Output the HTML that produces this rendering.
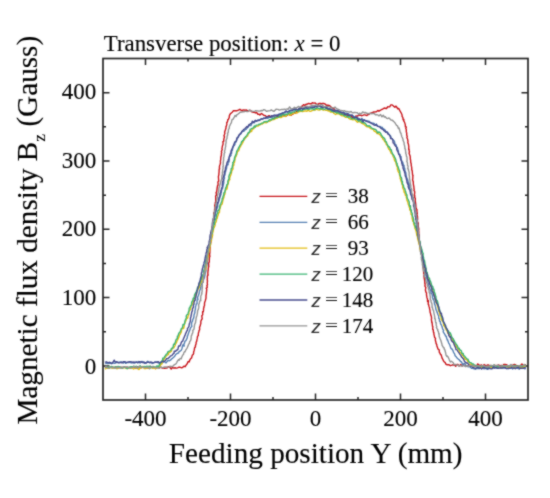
<!DOCTYPE html>
<html><head><meta charset="utf-8"><style>
html,body{margin:0;padding:0;background:#fff;}
body{width:550px;height:498px;overflow:hidden;position:relative;}
svg{position:absolute;left:0;top:0;}
text{font-family:"Liberation Serif","Times New Roman",serif;fill:#000;stroke:#000;stroke-width:0.12px;}
.tk{font-size:23px;}
.lg{font-size:21px;}
.lz{font-family:"Liberation Sans",Arial,sans-serif;font-style:italic;font-size:18.5px;fill:#2e2e2e;}
.le{font-size:21px;fill:#2e2e2e;}
.ax{font-size:29.2px;}
.tt{font-size:22.85px;}
</style></head><body>
<svg width="550" height="498" viewBox="0 0 550 498">
<defs><filter id="soft" filterUnits="userSpaceOnUse" x="0" y="0" width="550" height="498" color-interpolation-filters="sRGB"><feConvolveMatrix order="3" kernelMatrix="1 2 1 2 12 2 1 2 1" divisor="24" edgeMode="duplicate"/></filter></defs>
<g filter="url(#soft)">
<rect width="550" height="498" fill="#fff"/>
<path d="M145.50,400.0 v-6.5 M145.50,58.5 v6.5 M230.50,400.0 v-6.5 M230.50,58.5 v6.5 M315.50,400.0 v-6.5 M315.50,58.5 v6.5 M400.50,400.0 v-6.5 M400.50,58.5 v6.5 M485.50,400.0 v-6.5 M485.50,58.5 v6.5 M188.00,400.0 v-3 M188.00,58.5 v3 M273.00,400.0 v-3 M273.00,58.5 v3 M358.00,400.0 v-3 M358.00,58.5 v3 M443.00,400.0 v-3 M443.00,58.5 v3 M103.0,365.90 h6.5 M528.0,365.90 h-6.5 M103.0,297.60 h6.5 M528.0,297.60 h-6.5 M103.0,229.30 h6.5 M528.0,229.30 h-6.5 M103.0,161.00 h6.5 M528.0,161.00 h-6.5 M103.0,92.70 h6.5 M528.0,92.70 h-6.5 M103.0,331.75 h3 M528.0,331.75 h-3 M103.0,263.45 h3 M528.0,263.45 h-3 M103.0,195.15 h3 M528.0,195.15 h-3 M103.0,126.85 h3 M528.0,126.85 h-3" stroke="#262626" stroke-width="1.5" fill="none"/>
<g>
<path d="M104.9,367.6 106.1,366.9 107.4,366.9 108.8,368.2 110.0,367.2 111.5,367.7 112.7,367.0 114.0,367.9 115.0,367.3 116.2,366.9 117.5,367.5 118.9,367.7 120.5,367.5 121.2,367.3 123.1,367.6 124.1,367.3 125.5,367.1 127.2,367.1 128.3,368.0 129.5,367.4 130.9,367.5 131.9,367.4 133.8,366.5 135.0,367.4 135.9,368.4 137.6,366.7 138.7,367.6 139.9,367.7 141.3,367.7 142.9,366.9 143.9,367.1 145.2,366.7 146.4,367.2 148.0,368.0 148.8,367.0 150.5,366.3 151.6,367.4 153.3,367.9 154.2,367.3 155.5,368.4 156.8,367.4 158.3,367.5 159.4,367.0 160.8,367.4 162.3,368.0 163.4,368.0 164.6,368.3 166.0,368.1 167.0,368.0 168.2,366.7 169.8,367.3 171.2,369.1 172.3,367.5 173.8,368.1 175.0,367.8 176.5,368.1 177.5,367.8 179.0,367.2 180.3,367.3 181.8,367.8 182.9,367.2 184.1,366.1 185.0,366.7 185.6,366.0 186.3,364.8 187.2,363.7 188.1,361.4 189.2,362.0 189.8,360.1 190.6,358.7 191.6,357.9 191.9,356.6 192.3,355.1 193.2,354.5 193.6,353.4 193.6,352.0 194.0,350.9 194.4,349.5 194.5,348.0 195.5,346.8 195.3,346.1 196.1,343.8 196.1,343.0 196.1,342.5 196.8,340.9 196.9,339.8 197.3,338.2 197.5,336.4 198.3,335.5 198.3,334.5 198.4,333.0 198.9,331.8 199.0,330.7 199.6,329.8 199.6,327.8 199.5,327.4 200.3,325.5 200.4,324.8 200.8,323.6 200.8,322.6 200.9,321.0 201.6,319.7 202.2,318.8 201.8,315.8 202.6,314.9 202.7,314.7 202.6,311.8 203.3,311.7 203.5,310.4 203.6,308.3 204.0,307.3 203.9,306.8 204.5,305.5 204.5,303.6 204.7,302.2 205.2,301.0 205.4,300.3 206.0,298.1 206.0,297.5 206.0,295.5 206.1,295.4 206.3,293.8 206.4,293.1 206.7,289.9 206.7,288.8 206.2,288.3 207.3,287.3 206.9,285.5 207.5,284.8 207.3,283.3 207.3,282.5 207.5,280.9 207.2,279.8 207.4,278.8 207.3,276.8 207.7,274.9 208.1,275.1 207.8,273.4 208.1,270.3 208.2,270.4 208.3,268.5 208.3,267.7 208.8,266.7 208.7,266.1 208.7,263.7 208.5,263.5 209.3,261.9 209.3,260.1 209.4,258.6 209.4,257.5 209.9,256.5 209.6,254.6 209.6,254.5 209.9,252.3 209.9,250.4 210.0,250.2 210.0,248.3 210.2,247.2 210.0,245.7 210.2,245.0 210.4,243.5 211.0,241.7 210.6,240.7 210.9,238.8 211.1,239.1 211.0,236.6 211.0,235.6 211.1,233.5 211.7,232.4 211.8,232.4 211.8,230.6 212.4,228.9 212.0,227.0 212.4,227.2 212.8,224.6 212.7,223.6 213.1,222.5 213.3,221.5 213.4,220.0 213.7,218.7 213.9,218.5 214.1,216.2 213.7,215.1 213.8,212.8 214.6,212.7 214.5,210.0 214.6,209.3 214.9,209.6 214.9,206.7 214.7,205.8 215.1,203.9 215.2,202.6 215.6,202.5 215.7,200.4 215.7,199.3 215.7,197.9 215.6,196.0 216.3,195.4 216.4,194.7 216.1,192.5 216.7,191.8 216.8,190.9 217.1,188.4 217.1,188.2 217.6,185.4 217.9,185.5 218.1,183.7 217.9,182.0 218.7,181.2 218.6,179.7 218.5,177.8 218.5,178.0 218.4,176.7 218.9,174.3 218.9,173.3 219.1,172.0 219.1,170.8 219.2,169.0 219.6,168.9 219.4,167.1 219.7,165.3 220.2,164.2 220.5,162.8 220.4,161.8 220.4,161.0 220.7,159.7 220.8,157.5 221.0,156.8 221.4,155.0 221.4,153.3 221.7,152.3 221.4,151.6 222.2,149.5 221.9,148.6 222.1,148.0 222.4,146.1 222.9,144.8 223.1,143.4 222.9,141.6 223.8,141.2 223.7,140.1 223.9,138.8 224.5,136.9 223.9,135.7 224.2,135.4 224.9,133.1 224.6,132.2 225.5,129.6 225.6,129.3 226.0,128.0 226.0,126.5 226.1,126.8 226.8,124.6 226.8,122.5 227.2,122.3 227.7,121.0 227.8,119.7 228.5,119.3 229.3,117.3 229.3,116.1 229.9,114.5 230.7,113.3 231.6,112.8 232.5,111.9 233.4,110.8 234.8,110.7 236.2,110.8 237.1,110.7 238.4,110.2 239.9,109.3 241.3,110.5 242.6,110.2 243.8,109.9 245.1,110.2 246.5,110.0 247.8,110.9 249.0,110.8 250.5,110.4 251.7,111.8 252.9,112.2 254.0,112.2 255.5,113.0 256.6,112.4 257.9,114.3 259.2,114.3 259.9,115.1 261.4,113.5 262.8,114.4 263.7,115.2 265.5,115.6 266.6,117.0 268.2,116.2 269.1,115.6 270.3,116.6 271.8,116.5 273.2,116.1 274.3,117.1 275.7,117.3 277.0,116.6 278.3,116.3 279.1,117.1 280.8,116.9 281.7,116.3 283.2,115.8 284.1,115.9 286.1,116.0 287.0,115.4 288.6,113.6 289.6,115.0 291.1,115.3 292.4,114.0 293.4,113.8 294.3,112.7 295.8,113.2 296.7,111.4 297.8,111.4 298.7,110.6 299.4,108.8 300.5,108.3 301.7,106.2 302.3,106.4 303.5,104.7 305.0,105.3 306.1,104.3 307.5,104.0 308.7,103.4 309.6,103.7 310.9,103.8 312.4,102.8 313.7,103.1 315.2,102.9 316.2,103.9 318.1,104.4 318.9,103.5 320.5,103.4 321.2,103.8 322.8,103.5 323.6,103.5 325.4,104.2 326.4,105.2 327.8,105.3 329.0,105.5 330.0,106.0 331.4,107.2 332.1,107.7 333.3,109.0 334.1,108.8 335.4,111.5 336.8,110.7 337.9,112.5 338.9,111.8 340.4,112.8 341.4,112.8 342.9,114.5 343.8,114.4 344.5,114.8 346.1,115.1 347.5,115.1 348.2,115.9 349.7,115.9 351.0,116.1 351.9,117.2 353.8,117.2 355.4,116.6 355.9,116.0 357.3,116.1 358.9,115.1 360.3,115.2 361.5,115.7 362.7,115.4 363.9,114.9 364.9,114.9 366.9,115.6 368.0,114.5 368.8,114.6 370.2,113.3 371.4,113.0 372.6,112.5 373.7,112.0 375.7,111.8 376.4,111.7 377.8,110.4 378.9,111.2 380.2,110.3 381.7,109.5 382.6,109.2 384.2,108.0 384.9,108.3 386.5,108.5 387.8,106.8 388.8,106.9 389.7,106.8 390.8,104.9 392.2,104.9 393.5,106.1 394.9,107.2 395.9,106.1 396.8,107.2 397.7,108.8 398.7,108.4 399.8,110.5 400.4,111.7 401.1,112.8 401.8,114.2 402.1,115.4 402.1,116.3 402.9,117.7 403.1,119.7 403.8,119.4 403.8,121.1 404.5,122.1 404.9,123.4 405.3,124.7 405.4,126.9 406.3,127.0 405.8,128.4 406.3,129.5 406.3,131.4 406.4,132.2 406.7,132.9 406.7,135.1 407.2,136.5 406.9,137.6 407.7,139.5 407.7,140.0 408.0,141.4 407.8,142.6 408.5,144.4 408.6,145.3 408.8,146.6 408.7,149.5 409.1,149.2 409.1,150.9 409.5,151.8 409.1,153.2 409.6,154.7 410.1,156.1 410.2,156.6 410.4,159.6 410.6,159.9 410.7,162.0 410.7,162.3 411.2,164.0 411.2,165.1 411.4,166.2 411.6,166.8 411.8,169.2 411.7,169.9 412.2,170.7 412.3,172.0 412.6,175.2 413.0,175.1 412.8,176.6 412.8,178.6 412.6,179.7 413.0,181.2 413.2,181.3 413.3,183.4 413.4,184.5 413.4,184.4 413.9,187.2 413.9,188.2 414.2,189.2 414.0,190.6 414.6,191.3 414.7,193.0 414.3,195.3 414.7,195.2 414.8,197.7 415.3,198.2 415.3,200.2 415.2,201.2 415.5,202.0 415.6,203.7 415.8,204.6 415.9,206.8 416.2,208.0 416.6,209.1 417.0,209.6 416.9,211.2 417.3,213.6 416.6,213.4 417.3,215.7 417.5,216.5 417.6,218.2 417.6,219.7 417.3,220.7 417.7,222.2 418.0,222.5 418.3,223.8 418.1,224.7 418.4,227.1 418.7,228.1 418.8,229.5 418.6,231.1 418.9,231.9 418.7,233.3 418.9,234.2 419.2,235.7 419.2,236.8 419.3,238.8 419.3,240.9 419.7,242.1 420.0,242.0 419.8,243.9 420.1,245.0 420.2,245.3 420.4,246.3 420.8,248.4 420.7,250.0 421.1,250.6 420.9,252.1 421.0,253.5 422.0,254.7 422.0,255.8 422.1,257.7 422.2,259.4 422.8,260.5 422.6,261.2 422.9,262.9 423.1,264.3 423.4,264.5 423.1,267.3 423.3,267.7 423.4,268.7 423.6,272.1 424.0,271.4 423.6,273.1 424.2,274.2 423.9,276.4 424.4,277.0 424.0,277.7 424.3,278.6 424.7,280.8 424.8,283.4 425.0,283.1 425.1,285.6 424.9,285.7 425.2,286.7 425.8,287.5 425.4,290.0 425.8,291.5 426.1,292.6 426.5,292.8 426.5,294.9 426.8,296.6 426.9,297.4 427.5,299.3 427.5,301.5 428.4,300.8 428.2,304.3 428.6,304.3 428.7,305.1 429.0,306.4 429.5,307.7 429.5,308.6 429.9,310.0 430.1,312.3 430.5,313.3 430.7,314.3 430.9,315.4 431.3,316.3 431.6,318.2 431.4,319.2 431.6,320.8 431.8,322.6 432.0,322.0 432.2,323.5 432.5,326.4 432.8,326.4 432.7,329.4 433.2,329.7 433.5,332.3 433.8,332.4 433.9,333.9 433.9,334.2 434.3,335.6 434.6,337.4 435.5,338.2 435.3,339.8 435.7,341.7 435.9,341.9 436.0,343.1 436.8,344.9 436.9,345.9 437.5,347.6 437.8,348.4 438.0,349.2 439.2,349.8 439.3,352.3 439.8,352.9 440.5,354.5 441.1,354.7 441.6,356.4 442.1,358.2 443.0,359.7 443.4,360.8 444.4,362.1 445.2,362.4 445.7,364.0 446.3,364.5 447.7,364.8 448.7,364.7 450.4,365.7 451.9,365.2 452.9,364.8 454.4,365.1 455.7,366.3 456.9,364.5 458.0,364.5 459.2,366.0 460.8,364.5 462.2,366.0 463.3,364.9 464.6,365.5 466.1,366.0 467.5,366.0 468.9,365.7 469.5,365.2 471.2,365.1 472.7,365.1 473.6,366.1 475.2,365.4 476.6,365.9 477.8,363.9 478.8,365.0 480.1,365.4 481.8,365.0 482.6,366.4 484.1,364.6 485.5,365.5 486.6,365.7 488.0,364.8 489.4,365.7 490.5,365.5 492.0,366.9 493.1,366.1 494.6,365.2 496.0,365.8 497.5,365.5 498.3,365.0 499.9,365.6 501.4,365.5 502.6,366.1 503.7,364.5 504.7,364.5 506.6,364.8 507.9,365.6 509.3,365.9 510.2,365.2 511.5,365.4 512.7,365.3 514.4,364.4 515.4,364.8 516.7,365.8 518.0,365.7 518.9,365.9 520.4,365.6 521.9,363.9 523.0,365.4 524.8,365.5 525.8,364.5" fill="none" stroke="#c8161c" stroke-width="1.4" stroke-linejoin="round"/><path d="M105.4,364.0 106.4,362.9 107.3,363.5 109.6,363.4 110.6,363.3 111.4,363.7 112.6,362.8 114.3,363.4 115.6,363.1 116.6,362.2 118.1,362.5 119.1,362.2 120.6,361.9 121.7,362.0 123.3,363.1 125.0,362.0 125.7,363.3 127.1,362.6 128.9,362.6 129.5,362.1 131.2,363.0 132.1,362.2 133.8,363.1 134.9,363.1 136.4,361.7 137.5,362.9 138.8,361.5 140.1,363.1 141.8,361.5 143.4,362.0 144.3,363.3 145.6,362.7 146.4,363.0 147.8,361.2 149.9,363.0 151.0,362.1 152.2,363.5 153.5,362.7 154.2,362.6 155.3,361.8 157.1,362.3 158.4,362.8 160.1,363.6 161.0,363.5 162.1,362.6 163.8,362.0 164.8,361.7 166.1,362.9 167.1,361.6 168.2,360.2 169.2,360.9 171.1,359.6 171.4,359.0 172.5,358.3 173.7,357.2 174.9,356.0 175.7,354.5 176.6,353.9 177.7,353.2 178.6,353.1 179.1,351.4 180.0,351.2 181.3,350.2 181.6,349.4 182.0,348.4 182.8,344.9 184.2,346.1 183.9,344.2 184.6,342.9 184.9,341.3 185.9,340.6 186.5,339.4 187.3,337.7 187.3,335.9 187.5,336.4 188.0,334.8 188.7,332.7 189.0,331.8 189.4,331.2 190.1,329.3 190.2,328.5 190.8,327.7 191.8,326.4 191.5,324.6 191.7,322.9 192.0,321.9 192.5,321.3 192.8,319.5 192.9,319.3 193.6,318.1 193.9,316.6 194.0,314.9 194.9,312.6 194.8,312.9 194.9,311.2 195.4,309.1 195.5,307.7 195.5,306.6 195.9,305.7 196.4,303.6 197.0,303.8 197.0,301.7 197.1,300.9 197.5,298.4 197.9,299.7 197.6,297.4 198.4,295.5 199.0,293.6 199.1,293.9 199.4,291.5 199.8,290.3 200.5,288.8 200.7,287.3 201.1,286.8 200.7,285.6 201.5,284.1 202.5,282.5 202.4,282.7 203.1,281.5 203.6,279.0 203.9,278.9 204.6,277.0 204.7,275.7 204.9,275.6 205.3,272.6 205.5,272.4 206.0,270.6 205.9,269.4 205.9,267.4 206.7,266.6 206.8,266.2 207.0,264.3 207.5,263.3 207.2,262.1 207.5,259.9 207.7,259.0 207.4,257.7 208.0,256.3 207.9,255.1 208.4,254.0 208.4,253.0 208.5,251.3 209.3,249.7 209.1,249.4 209.3,247.4 209.6,246.8 209.2,244.5 209.7,243.1 209.9,241.9 210.4,240.6 210.6,240.1 210.6,238.6 211.3,237.4 211.0,235.9 211.1,234.8 211.7,232.9 211.7,232.7 211.8,230.9 211.9,229.1 212.3,229.5 212.5,226.7 212.7,225.6 213.3,224.5 213.8,223.3 214.0,222.1 214.1,219.8 214.2,219.3 214.5,216.9 215.0,216.6 215.0,215.4 215.4,214.5 215.5,212.5 216.1,211.9 216.3,210.2 216.5,209.2 217.3,207.4 217.7,207.2 217.7,205.9 217.8,203.3 218.2,202.8 218.7,201.5 219.2,199.3 219.6,198.5 219.7,197.8 220.0,196.0 220.3,195.5 221.0,194.5 221.0,192.5 221.4,192.0 221.4,191.1 222.1,188.8 222.5,188.5 222.8,187.2 223.0,186.1 223.5,184.0 223.8,182.9 223.7,181.0 223.9,180.7 223.9,179.4 224.5,177.9 224.2,176.4 225.0,174.7 225.1,172.6 225.5,172.2 225.8,170.3 226.1,169.9 226.5,168.3 226.5,168.8 226.8,165.9 227.3,164.5 228.1,164.8 228.0,161.7 228.9,162.0 229.2,160.8 229.2,158.8 229.5,156.9 230.4,156.0 231.1,155.2 230.8,154.4 231.7,153.0 231.5,151.7 232.5,150.0 232.4,149.6 233.1,147.2 233.5,146.2 234.2,145.5 234.9,144.6 234.9,143.3 236.0,142.1 236.6,140.4 236.8,140.1 237.4,137.3 238.6,136.9 239.0,135.5 239.5,134.6 240.5,134.4 240.9,133.6 242.0,131.6 243.4,131.3 243.8,131.4 245.0,129.7 246.1,129.4 246.9,128.3 247.8,127.5 248.8,125.8 250.3,125.3 251.0,125.6 252.0,123.1 253.2,122.2 254.4,122.8 255.2,121.2 256.6,121.1 257.5,120.9 258.5,119.9 260.1,119.6 261.5,118.7 262.8,118.9 263.8,117.9 264.9,118.5 266.2,118.0 267.9,118.2 269.3,117.1 270.0,117.5 271.5,117.3 272.7,117.0 274.2,116.4 275.4,115.9 276.6,115.5 278.0,114.7 279.4,114.5 280.4,114.1 281.4,114.9 282.6,112.6 283.8,112.8 285.6,112.6 286.6,111.6 287.7,112.1 289.3,111.0 290.3,111.1 291.2,110.6 292.6,109.1 294.0,110.3 295.1,109.0 296.8,109.6 298.0,110.0 298.9,109.4 300.2,108.7 301.5,108.5 303.1,108.4 304.1,108.0 305.5,107.5 306.6,107.7 307.9,107.6 309.2,108.6 310.9,107.6 311.9,108.4 313.2,107.0 314.5,107.1 316.1,106.8 317.5,106.2 318.5,106.1 320.1,106.5 320.9,107.3 322.5,106.3 323.5,106.3 324.8,107.3 326.0,107.3 327.2,107.6 328.7,109.2 329.4,108.7 330.9,109.4 332.1,109.5 333.3,110.4 334.8,110.3 336.1,110.6 336.9,111.4 338.6,111.4 340.0,112.4 340.8,111.7 342.6,113.2 343.4,112.1 344.6,112.9 345.7,113.6 346.9,113.3 348.7,114.0 349.7,115.2 351.1,115.1 352.1,115.3 353.7,116.6 354.3,116.7 355.9,117.5 357.4,118.4 358.0,118.1 359.1,118.7 360.6,120.5 361.9,118.3 362.9,119.9 364.0,119.8 365.5,120.9 366.7,120.6 368.2,121.2 369.1,121.2 370.3,122.8 371.3,122.9 373.0,123.2 374.1,123.4 375.5,125.1 376.4,124.1 377.3,126.2 379.1,126.4 380.1,126.5 380.9,127.5 382.2,127.3 383.4,129.6 383.9,129.0 385.3,130.2 385.6,131.8 387.1,132.0 388.4,133.3 388.7,134.3 389.4,134.8 390.6,135.9 391.2,138.2 392.2,138.8 392.8,139.7 393.7,140.5 394.4,141.2 394.6,142.1 395.1,144.3 396.1,144.8 396.3,146.1 396.7,146.9 397.4,147.8 397.9,149.9 398.3,150.5 398.6,153.3 399.1,154.4 400.0,154.5 400.1,156.5 401.1,156.7 401.1,159.0 401.7,160.7 401.9,161.1 402.2,163.2 402.7,162.1 403.2,164.5 404.1,165.6 404.0,167.4 404.7,168.3 404.9,169.8 404.9,170.9 405.3,171.6 405.8,172.6 406.1,175.1 406.2,175.5 406.5,177.4 407.1,178.5 407.5,179.3 407.7,180.0 408.2,182.2 408.3,184.0 408.9,183.0 409.2,185.0 409.8,188.4 409.8,188.4 410.3,189.8 410.9,191.5 410.9,192.9 411.3,193.4 412.1,194.9 412.0,195.4 412.5,197.0 413.2,197.6 413.3,199.9 413.6,201.1 414.1,202.4 414.3,203.7 414.7,203.6 414.9,205.8 414.8,206.6 414.7,208.2 415.2,210.0 415.2,211.8 415.8,212.2 415.8,213.1 416.0,214.6 416.4,216.0 416.3,217.3 416.6,218.8 417.4,220.3 417.1,220.4 417.0,221.7 417.6,223.4 417.6,224.8 417.8,227.2 417.7,227.6 417.9,229.5 417.9,229.7 418.0,230.9 418.6,234.3 418.4,234.7 418.8,234.9 418.9,236.7 418.9,239.1 418.8,239.6 419.5,240.3 419.6,242.4 419.8,243.5 420.1,243.4 420.4,247.1 420.5,247.7 420.2,248.3 420.5,249.3 421.1,250.5 421.0,251.2 421.2,253.6 421.3,254.4 422.1,255.4 421.7,256.9 422.4,259.8 422.5,259.5 422.5,261.8 422.7,263.3 423.4,263.8 423.5,265.4 424.0,265.7 424.2,267.4 424.1,268.9 424.5,269.6 424.5,270.8 425.5,273.7 425.6,274.5 425.7,275.1 426.3,275.8 426.4,277.7 426.9,278.3 427.4,280.0 427.9,281.4 428.0,282.7 428.4,283.5 428.8,285.5 429.4,287.0 429.3,287.3 429.9,288.9 430.3,289.8 431.0,291.4 430.9,293.3 431.8,293.5 432.1,294.6 432.5,296.2 432.5,297.3 432.9,298.9 433.5,300.0 433.7,299.2 434.2,301.4 434.6,304.4 435.0,304.8 435.3,306.2 435.6,307.1 435.9,309.4 436.4,310.5 436.8,311.2 437.2,312.7 437.8,313.8 437.8,314.5 438.7,316.0 438.7,318.2 439.4,318.9 439.5,321.2 440.0,321.4 440.3,321.6 440.5,323.8 441.3,324.7 441.4,325.2 442.0,326.5 442.7,329.1 443.6,330.2 443.4,330.4 443.2,331.8 444.5,333.8 445.1,334.8 445.5,336.1 446.3,336.3 446.4,337.3 447.3,340.0 447.7,339.8 448.1,341.6 448.6,342.8 449.2,343.8 449.9,345.3 450.2,346.3 450.8,348.0 451.4,348.8 452.0,349.0 452.9,350.4 453.5,352.3 453.7,352.7 454.6,353.9 455.1,355.8 456.1,356.7 456.8,357.7 457.6,358.5 458.7,359.5 459.4,359.8 460.5,361.5 461.4,361.7 462.6,364.4 463.4,364.0 464.5,363.2 465.5,365.0 466.9,366.0 467.6,366.6 469.0,366.9 470.2,366.9 471.4,368.3 473.2,368.4 474.1,368.8 475.5,369.2 476.9,368.3 478.0,368.5 479.3,368.5 480.3,367.3 481.7,367.3 483.1,368.4 484.1,368.8 485.9,368.4 487.4,369.4 488.1,368.9 489.7,368.6 491.1,367.9 492.1,367.8 493.4,368.2 494.5,367.7 496.2,368.2 497.5,367.2 498.5,367.9 500.0,367.9 501.5,368.2 502.6,368.2 504.1,367.9 505.5,368.4 506.6,368.2 507.9,368.7 509.3,368.4 510.6,368.2 512.0,368.1 512.6,368.9 514.3,367.5 515.6,367.6 517.4,368.4 517.9,368.4 519.4,369.1 520.6,366.8 522.1,367.9 523.3,366.9 524.8,368.9 525.6,368.7" fill="none" stroke="#5580b2" stroke-width="1.4" stroke-linejoin="round"/><path d="M105.0,369.3 106.5,367.9 107.9,368.3 108.9,368.4 110.2,367.1 112.0,367.9 112.8,368.3 113.8,367.4 115.4,367.8 116.8,368.7 118.0,368.4 119.5,367.6 120.7,367.6 122.2,368.4 123.3,367.4 124.6,367.8 126.0,368.1 127.0,368.7 128.6,367.9 130.0,368.0 131.0,368.3 132.2,367.9 133.6,369.0 135.3,368.0 136.6,368.1 137.7,368.6 138.9,369.5 140.2,367.5 141.8,367.9 142.7,366.4 144.3,368.5 145.6,368.6 147.1,368.0 148.2,367.6 149.2,368.6 150.7,367.3 152.0,367.9 153.0,368.3 154.4,367.1 155.5,368.9 156.7,367.8 158.4,367.7 159.1,366.4 160.3,366.1 160.8,363.9 161.8,364.0 162.3,362.0 163.0,361.2 163.7,359.4 164.3,358.9 164.8,358.0 165.8,356.6 166.7,355.1 167.4,355.1 168.4,354.5 168.9,352.1 170.1,352.2 171.3,351.3 171.5,350.4 172.3,348.1 173.8,348.0 174.1,347.1 175.0,345.8 175.5,343.9 175.5,344.1 176.6,342.4 176.9,341.0 177.2,340.6 178.1,338.9 178.5,338.0 179.1,336.6 179.3,335.3 180.6,333.6 180.6,333.2 181.4,331.9 181.4,330.6 182.1,328.7 183.0,327.8 183.6,328.5 184.2,326.0 184.4,324.1 184.9,323.0 185.4,321.8 186.1,320.4 186.3,319.0 187.2,318.5 187.8,317.8 187.9,316.4 188.1,316.1 189.0,313.5 188.9,312.5 189.2,310.7 190.2,309.9 190.4,309.2 190.7,307.6 191.3,305.8 192.0,304.5 192.8,303.5 193.2,302.0 193.4,300.7 193.4,300.2 194.4,298.2 194.9,297.3 195.2,296.7 195.8,294.3 196.5,294.4 196.6,292.4 196.8,291.0 197.8,290.3 197.9,289.0 199.0,288.0 199.1,287.7 199.8,285.8 200.1,283.7 200.5,283.1 201.2,282.3 201.8,281.1 202.2,279.2 202.1,278.2 202.8,276.9 203.4,275.4 203.6,274.8 204.2,273.2 204.6,272.2 204.6,271.1 205.5,269.4 205.7,269.3 206.0,266.8 206.4,266.0 206.1,264.6 206.5,263.4 206.6,262.8 206.8,260.3 207.4,260.0 207.7,257.7 208.0,257.3 208.4,255.1 208.4,254.3 208.2,252.8 209.1,251.7 209.0,251.2 209.7,250.0 209.6,248.1 210.2,246.5 210.1,246.1 210.9,243.7 210.3,242.3 210.9,241.7 211.5,240.5 211.5,239.4 211.7,238.0 212.0,238.2 212.6,235.0 212.5,233.9 212.6,232.5 213.0,232.1 213.4,229.9 213.5,228.4 214.1,227.7 214.7,226.2 215.0,225.5 215.2,223.0 215.3,223.2 216.2,221.7 216.5,220.1 216.6,218.7 217.3,218.1 217.5,216.5 218.0,215.6 218.1,215.1 218.8,212.9 219.5,212.3 219.5,210.8 219.7,208.9 219.9,208.7 220.4,207.1 221.0,205.0 221.6,204.5 222.2,204.0 222.5,202.3 222.7,201.0 223.3,199.1 223.6,198.1 224.0,197.1 224.2,195.2 224.9,193.4 225.0,194.0 224.9,191.5 226.0,189.7 226.8,188.0 227.0,189.0 227.3,186.8 227.6,185.2 228.1,183.9 228.3,183.8 228.5,181.8 229.2,180.1 229.8,179.7 229.6,178.3 230.1,176.7 230.6,175.4 231.1,174.1 231.4,173.2 231.7,171.7 231.7,170.1 232.3,170.0 233.0,168.9 232.9,166.9 233.3,165.7 233.9,165.0 233.8,162.8 234.6,162.1 234.6,161.4 235.0,159.3 235.3,157.2 236.1,156.4 236.2,155.4 236.9,154.5 237.2,152.4 237.6,151.3 238.2,151.1 238.7,150.9 239.3,148.9 239.8,147.3 240.5,146.8 240.7,145.6 241.7,144.5 242.4,142.2 242.7,142.8 243.8,139.9 244.6,139.4 244.9,137.4 245.7,137.7 246.9,136.4 247.7,135.9 248.0,134.3 249.1,132.8 249.9,132.4 250.8,130.6 251.6,131.5 252.4,128.6 253.6,128.9 254.7,127.2 255.9,126.6 256.5,126.0 257.9,126.1 259.2,125.1 260.4,124.7 261.6,123.3 262.3,124.0 263.5,122.9 265.0,122.3 266.1,122.9 266.9,122.1 269.2,121.2 269.9,121.1 271.5,119.7 272.4,119.8 273.7,119.6 275.0,118.8 276.1,118.3 277.1,118.2 278.5,117.2 280.1,117.3 280.7,117.6 282.0,116.8 283.4,116.3 284.7,115.4 285.9,116.4 286.6,114.9 288.5,114.0 289.3,115.4 290.8,115.0 292.2,113.5 293.5,113.5 294.9,113.1 296.0,112.7 297.5,112.8 298.3,111.8 299.8,111.5 300.9,111.1 302.3,111.6 303.8,111.2 305.3,110.9 306.9,111.3 307.6,110.3 308.1,110.4 310.1,111.4 311.0,111.2 312.6,110.4 313.3,109.9 315.1,110.1 316.5,109.0 318.0,109.9 319.2,110.1 320.6,109.5 321.4,108.9 323.3,110.2 324.3,109.7 325.5,110.2 326.7,110.1 328.5,111.0 329.2,110.5 330.4,112.0 332.0,111.8 333.1,112.2 334.0,113.5 335.6,114.5 336.6,113.5 338.2,113.8 338.9,113.9 340.5,115.0 341.6,115.8 343.1,115.9 344.1,116.1 345.4,117.2 346.5,117.3 347.7,116.7 348.8,118.4 350.3,119.2 351.5,119.3 353.0,119.8 353.8,119.6 355.1,119.6 356.4,121.2 357.4,122.2 358.6,121.5 359.8,121.8 361.1,122.8 362.6,123.7 363.5,123.8 364.2,124.5 365.5,125.7 366.8,126.7 368.1,126.9 369.1,127.2 370.3,128.3 371.1,128.7 372.9,129.1 373.4,129.5 374.2,131.2 375.6,131.5 377.1,133.5 377.5,133.5 378.8,133.9 379.8,134.6 380.9,135.8 381.5,137.2 382.4,137.7 383.1,139.5 383.8,139.6 384.2,140.5 384.8,141.9 385.7,141.9 386.3,144.5 386.9,144.8 387.8,146.0 387.9,147.0 388.8,149.2 389.8,149.9 389.9,150.5 390.6,151.9 391.1,153.2 392.3,154.2 392.8,154.9 393.0,156.2 394.1,158.3 394.3,159.6 394.8,161.0 395.4,161.2 395.9,162.2 395.9,163.1 396.5,165.1 396.8,166.1 397.5,167.4 397.4,169.6 398.2,170.3 397.9,171.0 398.8,172.6 399.3,173.1 399.5,174.8 400.0,176.3 400.3,177.3 400.1,178.2 400.6,179.5 401.4,182.1 401.6,182.0 401.8,183.5 402.5,185.3 402.7,186.1 402.6,187.2 403.2,189.0 403.8,189.6 404.1,192.2 404.4,192.0 405.0,193.4 405.4,195.3 406.3,195.2 406.3,197.5 406.7,198.6 407.0,200.5 407.4,201.1 407.9,202.5 408.2,204.2 408.6,205.0 409.0,205.6 409.1,206.8 409.7,208.3 409.8,210.0 410.5,210.2 411.1,212.4 411.0,214.2 411.4,214.6 412.2,215.6 412.1,217.9 412.2,218.6 412.9,221.2 413.0,221.1 413.7,222.5 413.6,223.9 414.2,225.2 414.8,226.7 415.0,227.6 415.0,228.6 415.7,229.7 416.0,230.7 416.6,233.6 416.6,233.9 416.9,235.6 417.4,236.3 417.6,237.5 417.7,239.1 418.1,240.3 418.6,241.9 418.9,243.1 419.0,244.1 419.5,245.1 419.9,246.8 419.7,247.7 420.1,249.5 420.3,249.5 420.7,252.3 421.1,252.7 421.6,252.9 421.9,255.5 422.3,256.9 422.5,257.7 422.8,259.1 423.6,260.4 423.5,261.1 423.6,263.5 423.8,263.5 424.4,265.0 425.1,265.2 425.1,268.2 425.1,268.7 425.7,271.2 425.8,270.7 426.5,273.7 426.6,272.8 427.4,275.2 427.7,276.5 427.8,277.5 428.7,279.8 428.3,279.7 429.7,281.2 429.5,282.6 430.2,283.8 430.7,284.9 431.1,286.4 431.5,287.3 432.1,289.4 432.7,289.8 433.1,291.3 433.7,292.6 434.2,294.3 434.2,294.6 434.7,296.4 434.9,296.5 434.9,298.8 435.8,300.3 435.7,301.7 436.2,302.6 436.8,303.1 436.9,303.7 437.2,305.1 437.9,307.4 438.3,308.8 438.4,310.0 438.8,311.4 439.3,311.8 439.7,313.6 440.0,315.3 440.9,315.8 440.9,316.0 441.3,318.2 441.3,319.9 442.4,320.5 442.6,321.6 443.4,322.5 443.7,325.6 444.3,326.0 444.8,326.2 445.4,328.2 445.9,329.3 447.0,330.9 447.1,330.8 447.8,333.1 449.0,334.0 449.3,334.0 450.2,335.8 450.7,337.0 451.6,338.2 451.9,338.0 452.7,340.4 453.3,341.2 453.8,343.0 454.6,343.8 455.1,344.5 456.0,345.4 456.4,346.9 457.6,348.3 458.4,349.1 458.8,349.5 459.5,352.1 460.5,352.8 461.3,353.4 461.9,354.5 462.9,355.8 463.6,356.6 464.2,357.4 465.0,359.1 465.6,359.4 467.5,360.2 467.6,361.3 469.1,362.1 469.9,363.1 470.7,365.6 471.9,364.4 472.8,365.6 474.2,366.4 475.3,365.7 476.7,366.7 477.8,366.2 479.0,366.8 480.4,366.4 481.7,367.3 482.8,366.8 484.1,367.6 485.1,366.9 486.6,366.8 488.4,366.7 489.6,366.5 491.3,367.5 492.4,366.3 493.2,367.6 494.7,366.9 496.1,366.3 497.5,367.0 498.7,366.7 500.0,366.6 501.4,367.7 502.7,367.3 504.0,365.5 505.3,366.9 506.4,366.9 507.4,366.7 509.2,367.8 510.2,366.5 511.9,366.5 513.4,367.0 514.0,367.6 515.9,366.2 517.2,366.9 518.5,366.8 519.1,367.3 520.9,368.2 522.4,367.4 523.3,366.7 524.6,366.5 525.9,365.6" fill="none" stroke="#e3bd14" stroke-width="1.4" stroke-linejoin="round"/><path d="M105.1,367.0 107.0,367.4 107.6,367.3 108.7,366.7 109.9,367.8 111.7,366.4 112.9,367.6 114.3,367.3 115.3,366.8 116.8,367.6 117.9,366.5 119.6,366.6 120.9,367.3 122.2,368.1 123.4,367.6 124.4,366.8 126.0,368.0 127.5,368.5 128.6,367.3 130.0,367.2 131.1,366.6 132.6,366.6 133.8,366.4 135.2,366.6 136.5,366.3 137.5,367.8 138.7,367.2 140.1,365.8 141.6,367.3 142.5,367.4 143.9,366.5 145.4,366.7 147.2,366.2 148.2,367.6 148.9,366.1 150.7,366.7 152.0,367.6 153.1,366.4 153.9,367.1 155.6,367.1 157.1,365.9 158.6,366.8 159.4,364.7 159.9,364.0 160.5,362.5 161.4,362.1 162.0,360.6 162.8,359.9 162.7,358.3 164.0,358.1 164.7,356.4 165.4,355.9 166.3,354.2 167.1,353.9 168.0,351.6 169.1,351.2 169.9,350.8 171.0,350.2 171.4,348.5 172.0,348.5 173.1,347.2 173.6,344.2 174.6,344.3 174.8,343.1 175.5,342.1 175.5,341.3 176.3,339.2 177.3,338.8 177.4,336.1 178.0,336.2 178.5,334.1 178.9,332.9 179.7,332.8 180.5,330.8 180.8,330.4 181.2,328.8 182.4,327.8 182.7,326.3 183.0,324.4 183.6,324.8 184.6,323.7 184.8,321.9 185.1,320.5 185.8,319.0 186.4,317.7 186.2,316.4 186.6,315.0 187.7,314.4 187.9,313.9 188.5,311.8 189.0,311.0 189.1,309.8 189.2,308.0 190.0,307.5 190.4,305.9 191.1,305.5 191.5,304.2 191.7,302.1 192.4,300.9 192.7,300.8 193.2,298.1 193.8,298.5 194.2,296.9 194.6,294.8 195.1,293.8 196.1,292.0 196.6,290.9 196.7,290.7 197.3,289.2 197.3,288.0 198.0,288.1 198.7,285.6 199.0,284.0 199.5,283.6 200.2,282.2 200.6,280.4 201.5,278.9 201.3,278.4 201.8,276.8 202.7,275.3 203.1,274.1 203.6,274.0 203.5,271.9 203.7,270.9 204.4,268.7 204.6,267.5 204.5,266.0 205.4,265.7 205.3,264.0 205.7,262.0 205.7,263.1 205.9,260.6 206.4,258.8 206.5,258.6 206.8,257.0 207.0,255.7 207.4,255.0 207.8,252.8 207.4,252.1 208.4,249.9 208.0,248.5 209.0,247.3 208.9,246.7 209.6,245.3 209.6,243.8 210.2,243.4 210.1,240.8 210.3,240.6 210.5,239.5 211.0,237.9 211.4,236.7 211.3,235.0 212.2,233.2 211.9,233.2 212.2,230.9 212.2,230.4 213.0,229.6 213.1,228.1 213.2,226.4 213.7,225.1 214.4,224.4 214.4,223.2 214.9,220.7 215.3,219.3 215.8,219.0 216.1,217.9 216.5,216.4 216.6,215.1 217.2,213.6 217.8,212.8 217.8,210.6 218.5,210.4 219.1,209.4 219.7,208.0 219.8,205.9 220.1,205.0 220.7,204.1 221.1,202.7 221.6,201.7 222.0,200.5 222.2,198.5 222.8,198.1 223.0,196.4 223.9,194.9 223.7,194.2 223.9,192.9 224.9,192.1 225.0,190.7 225.3,189.6 225.7,187.7 226.2,187.2 226.6,185.8 226.6,184.9 227.9,183.7 227.8,181.3 228.3,180.0 228.8,179.0 229.2,178.8 228.8,176.9 229.4,174.7 229.8,174.1 230.5,172.1 230.8,172.8 231.0,170.8 231.2,168.6 231.7,168.2 232.1,168.1 232.4,165.7 233.0,163.4 232.7,162.7 233.2,162.1 233.6,161.4 234.4,159.6 234.4,158.3 235.1,156.1 235.4,155.9 235.8,155.1 236.5,152.6 236.7,151.4 237.3,150.2 237.9,149.7 238.4,148.2 238.4,148.1 239.3,146.7 240.1,145.1 241.0,143.8 241.6,141.7 242.2,141.3 242.7,140.4 243.6,140.2 243.9,138.3 244.9,137.9 245.8,136.5 246.6,135.6 247.7,134.0 248.3,132.4 249.1,132.6 249.7,131.7 250.2,129.1 251.3,128.9 252.5,128.2 253.5,127.8 254.4,125.9 255.3,127.0 256.2,125.1 258.2,124.9 258.9,124.1 260.4,124.2 261.2,123.4 262.7,123.1 264.1,121.8 264.7,121.7 266.6,121.4 267.5,121.9 268.4,120.6 269.8,119.7 271.1,120.1 272.1,118.5 273.2,118.7 274.7,118.3 275.8,117.4 277.5,117.1 278.7,117.1 279.7,115.5 281.2,116.0 282.4,114.4 283.1,113.9 284.5,115.2 286.0,114.2 287.2,114.3 288.3,113.7 289.7,111.9 290.8,113.5 292.1,112.4 293.3,111.9 294.9,111.7 295.7,109.9 297.1,110.3 298.1,111.5 299.9,109.8 301.2,110.9 302.2,110.8 303.3,109.5 304.6,109.4 306.4,109.0 307.2,109.1 308.8,109.3 310.2,108.9 311.1,108.9 312.6,108.5 314.0,109.8 315.1,108.7 316.8,108.3 317.6,107.9 319.2,108.8 320.4,108.5 322.0,109.1 322.7,108.7 324.3,109.3 325.5,108.8 326.7,108.5 328.1,109.5 329.4,109.6 330.5,110.0 331.6,111.3 333.0,111.5 334.1,111.7 335.2,111.8 336.7,112.8 338.0,112.8 339.4,113.4 340.6,114.2 341.7,114.1 343.0,114.5 344.2,115.7 345.5,115.4 346.3,116.0 347.7,117.1 348.9,116.8 350.4,117.0 351.4,118.7 353.0,118.5 354.0,118.1 355.3,119.1 356.4,119.2 357.5,119.9 358.8,121.3 360.0,120.2 360.9,120.8 362.1,122.5 363.5,122.5 364.6,123.0 365.4,123.3 366.7,125.4 367.7,126.0 369.4,125.8 370.2,126.3 371.3,127.7 372.4,128.5 373.8,128.9 374.7,129.4 375.7,129.5 376.8,131.0 377.6,132.9 378.6,132.0 379.8,132.3 380.6,133.4 381.4,135.1 382.6,136.7 383.5,137.8 384.1,138.0 385.0,139.1 385.2,141.3 386.2,141.7 386.8,143.2 387.0,143.8 387.6,145.1 388.4,146.9 389.3,146.8 389.8,147.7 390.5,149.8 391.2,149.6 391.8,152.0 392.5,153.5 392.8,154.3 393.6,155.2 394.4,156.7 394.7,157.6 395.1,157.9 395.9,159.9 395.9,160.7 396.7,163.2 397.3,164.0 397.0,164.8 397.9,166.3 398.2,167.2 398.9,169.4 398.8,169.3 399.7,170.8 399.9,173.4 399.8,173.7 400.2,175.1 400.8,177.1 401.2,177.3 401.6,178.4 401.7,181.1 401.9,180.8 402.5,181.7 402.4,184.2 403.0,184.5 403.5,185.5 403.7,187.4 404.9,189.0 404.9,189.0 405.2,190.4 405.8,192.1 406.0,193.4 406.3,193.9 407.0,195.2 407.0,197.0 407.5,198.5 408.3,199.8 408.5,200.9 409.0,201.1 409.3,202.9 409.3,204.6 409.8,206.2 410.5,205.8 410.6,209.4 411.2,210.4 411.4,210.1 411.4,212.5 412.2,213.0 412.3,214.8 412.3,215.7 413.4,218.3 413.4,219.4 413.6,219.2 413.6,221.4 414.4,223.4 414.9,223.5 414.8,225.5 415.4,225.8 415.4,227.7 416.4,228.1 416.6,229.9 417.1,231.0 417.6,232.0 417.5,233.2 417.4,234.2 418.5,236.1 418.4,237.4 418.5,238.3 419.4,240.1 419.4,241.5 420.3,242.0 420.3,242.6 420.1,245.1 420.8,246.1 421.0,247.1 421.6,249.5 421.7,248.9 422.3,251.4 422.5,252.4 423.2,253.6 423.1,253.8 423.1,255.7 423.6,257.6 423.7,259.6 423.9,259.7 424.5,260.5 424.9,262.8 425.0,264.8 425.4,265.1 425.4,265.3 425.8,267.3 426.2,269.2 426.1,269.4 426.5,272.0 427.2,272.3 427.4,274.3 427.9,275.2 428.0,276.9 428.9,277.8 429.6,278.6 429.7,280.3 430.3,281.0 430.8,282.1 431.4,284.1 431.7,285.8 431.9,285.8 433.0,286.9 432.8,289.2 433.7,289.0 434.1,290.3 434.1,292.0 434.7,292.7 435.1,294.0 435.5,295.8 436.0,296.8 435.9,297.6 436.5,300.4 437.1,300.5 437.5,301.4 437.9,303.1 438.2,304.9 438.3,306.0 438.5,307.0 439.3,310.6 439.6,309.6 439.6,311.4 439.9,311.6 440.7,312.6 441.4,315.1 441.3,315.4 441.6,316.2 442.4,318.5 442.8,319.6 443.1,320.8 443.4,321.9 444.5,323.8 444.6,324.1 445.6,326.4 445.5,326.4 446.5,328.4 446.9,329.2 447.7,331.3 448.5,331.0 449.1,332.8 450.0,332.7 450.6,333.6 451.0,334.8 451.5,336.2 452.3,338.0 453.3,338.8 453.5,340.5 453.9,340.1 455.1,342.7 455.8,343.3 456.0,344.3 457.1,345.3 457.5,346.0 458.1,348.3 459.2,348.3 459.6,349.7 460.8,350.4 461.4,350.9 461.9,353.4 463.2,353.5 463.6,355.6 464.5,355.9 465.5,357.3 466.5,358.6 467.0,359.1 468.0,359.3 468.8,361.5 469.6,362.4 471.0,362.6 472.1,363.8 473.3,364.0 474.1,364.8 475.7,366.0 476.4,365.6 477.7,366.0 479.2,367.4 480.0,366.7 481.8,365.8 483.0,365.9 484.3,366.7 485.3,366.8 486.9,366.9 488.3,366.7 489.7,366.6 490.9,365.5 492.3,366.4 493.9,364.9 494.7,366.6 495.8,365.9 497.8,366.8 498.4,366.8 500.2,366.4 501.3,366.1 502.3,365.7 504.0,366.1 505.5,365.8 505.9,365.8 507.8,366.2 509.1,365.6 510.7,365.6 511.8,365.8 512.7,366.8 513.7,365.5 515.6,365.8 517.0,365.9 518.0,367.2 519.4,365.9 520.5,365.6 522.2,366.3 523.3,365.6 524.8,365.1 525.9,365.9" fill="none" stroke="#3db574" stroke-width="1.4" stroke-linejoin="round"/><path d="M104.9,362.4 106.2,361.8 108.1,362.7 109.3,362.3 110.5,362.6 111.9,363.5 112.8,362.3 114.2,360.2 115.2,362.1 116.9,361.8 118.3,362.8 119.3,362.9 121.1,362.3 121.8,362.9 123.3,361.8 124.6,361.7 126.1,362.4 127.5,362.3 128.3,361.9 130.0,361.8 131.7,361.9 132.3,362.6 133.9,362.0 134.9,362.3 136.5,362.4 137.5,362.3 139.1,362.5 139.5,361.6 141.3,362.0 142.8,362.6 144.2,362.1 145.4,363.1 146.6,362.3 148.3,362.4 148.8,362.4 150.5,362.1 152.1,362.5 153.1,362.8 154.6,362.3 155.9,362.4 157.0,362.0 158.4,361.7 159.4,362.9 160.9,362.0 162.2,361.7 163.4,361.2 164.4,361.2 165.6,360.5 166.4,358.7 168.1,358.4 168.7,357.9 169.7,357.0 170.5,355.9 171.8,355.6 173.1,353.9 174.1,353.1 174.2,351.2 175.8,351.4 176.2,350.1 176.9,350.2 177.9,349.4 178.6,346.0 179.5,346.0 180.0,346.0 180.6,344.6 181.3,342.5 182.0,341.4 182.8,341.1 183.1,339.7 183.8,338.1 184.4,336.9 184.9,335.3 185.3,334.9 185.6,333.3 186.2,332.7 186.6,331.3 187.6,330.1 187.4,328.7 188.4,327.3 188.9,326.6 189.2,324.9 189.4,323.6 189.8,322.8 190.3,321.1 190.5,320.2 190.4,318.3 190.8,317.3 191.1,316.0 191.2,315.3 191.7,312.7 191.9,311.7 192.5,310.8 192.3,309.8 192.6,308.5 193.3,307.4 193.4,306.6 193.3,305.6 194.0,304.0 194.0,302.6 194.6,300.6 195.3,300.0 195.1,298.5 195.7,297.8 195.9,296.6 196.4,294.0 196.3,292.9 196.8,292.9 197.2,290.3 197.4,290.2 197.7,288.3 198.2,286.1 198.6,286.0 198.9,284.1 199.0,283.0 199.5,282.1 199.8,281.8 200.4,279.2 200.3,279.2 200.7,277.8 201.4,275.5 201.3,274.6 201.4,272.7 201.8,272.4 202.1,270.6 202.4,268.7 203.1,266.9 202.9,267.2 203.1,266.0 203.9,263.9 204.0,262.5 204.3,261.9 204.6,261.3 204.9,260.0 205.2,257.4 205.5,257.0 205.4,256.2 206.0,254.4 206.1,253.0 206.7,251.5 206.9,249.3 207.5,248.6 207.1,247.4 207.7,247.0 208.1,245.6 208.4,245.4 209.1,244.0 209.1,242.0 209.4,240.7 210.0,238.3 209.9,237.2 210.0,236.2 210.3,234.5 210.8,234.3 210.7,232.4 211.1,231.3 211.2,230.6 211.7,229.2 211.7,228.7 212.4,226.1 212.2,225.7 212.3,224.0 212.7,222.1 213.0,220.3 213.2,218.8 214.1,219.5 214.1,217.6 214.4,216.8 214.7,215.4 214.6,213.8 215.0,211.7 215.2,211.3 216.0,209.1 216.5,209.4 216.4,207.1 216.8,206.6 217.1,204.2 217.6,202.4 217.9,203.0 218.3,201.5 218.7,200.2 218.9,198.1 219.2,197.3 219.9,196.9 220.0,194.4 220.1,193.4 220.9,192.5 220.9,190.6 221.4,189.9 221.5,188.6 222.2,187.1 222.4,186.6 222.3,185.2 222.5,182.9 222.7,181.6 223.1,180.9 223.4,180.0 222.8,178.5 223.3,177.1 223.8,175.8 224.5,173.5 224.5,173.1 224.3,172.3 225.0,170.4 225.2,171.1 225.6,167.1 225.8,166.7 226.3,165.6 226.6,164.7 227.1,162.4 227.4,161.7 228.2,160.9 228.3,159.5 228.9,159.3 229.1,157.2 229.8,155.2 230.0,154.6 230.3,153.6 231.0,152.6 231.1,150.9 232.1,148.9 232.1,148.8 232.6,147.5 233.1,146.3 233.9,144.6 234.2,143.5 234.6,142.4 235.1,141.7 236.3,141.0 236.8,138.4 237.6,137.4 237.9,137.8 238.4,136.1 239.5,134.5 240.0,133.8 241.0,133.2 242.3,130.9 242.8,130.6 243.7,129.3 244.9,128.9 245.5,127.9 246.9,126.6 247.5,127.3 249.0,124.6 249.4,124.9 250.4,123.7 251.7,123.4 252.3,121.2 253.7,122.4 255.2,120.3 256.5,121.2 257.6,120.2 258.9,120.6 260.1,119.9 261.3,119.0 262.4,119.0 263.8,118.3 265.3,118.4 266.5,116.9 267.7,117.1 268.7,116.6 270.4,117.2 271.2,115.8 272.6,115.9 274.3,115.0 274.7,115.3 276.4,115.2 277.8,115.9 278.8,114.1 279.7,114.1 281.5,113.4 282.8,113.1 284.1,112.9 284.8,111.9 285.9,110.9 287.6,112.0 289.2,111.1 290.0,110.2 291.5,110.7 292.4,110.5 293.9,108.8 295.2,109.7 296.3,109.1 298.0,109.9 299.3,108.2 300.0,109.1 301.2,108.0 302.4,109.2 304.3,108.3 305.4,107.6 306.5,108.0 307.8,108.2 309.1,106.9 310.8,107.2 311.9,106.9 312.6,107.3 314.1,107.5 315.3,105.7 317.0,106.9 318.3,106.0 319.8,105.9 320.8,106.4 322.1,107.4 323.3,107.5 324.9,106.6 325.7,107.6 327.1,108.4 328.0,109.0 329.9,108.9 330.6,109.4 332.0,110.1 333.4,110.6 334.5,111.4 335.4,110.4 337.2,110.5 338.6,111.0 339.7,111.4 340.8,112.4 342.1,112.4 343.9,113.0 344.4,113.9 346.1,114.5 347.5,113.7 348.6,115.3 349.5,115.3 350.1,115.3 352.4,115.1 353.1,116.7 354.5,117.9 355.2,117.5 357.0,117.2 358.0,119.4 359.6,119.1 359.9,119.2 361.8,119.5 362.9,121.8 364.1,120.0 365.5,120.7 366.6,121.3 368.0,121.9 368.8,122.2 370.4,122.5 371.8,123.6 372.5,123.9 374.3,125.1 375.0,125.3 376.1,124.6 377.5,126.1 378.7,126.6 379.7,126.9 380.9,128.3 381.9,129.0 382.5,128.9 384.3,131.1 385.0,130.9 385.6,132.1 387.0,132.0 387.8,134.1 388.6,134.2 389.4,135.0 390.4,136.9 390.6,138.6 391.8,138.6 392.8,139.5 393.0,141.8 393.1,142.9 394.1,143.5 394.5,144.8 395.0,145.3 395.7,146.3 396.7,147.4 396.7,149.2 397.4,151.0 398.1,151.6 398.3,153.0 399.0,154.6 399.2,154.3 400.2,157.1 400.3,158.0 400.5,158.5 401.0,160.2 401.4,160.7 401.8,163.1 402.2,164.0 402.2,165.1 403.0,165.8 403.0,168.0 403.5,169.3 403.9,170.6 404.3,170.7 404.6,172.6 405.1,173.8 405.2,175.8 405.9,177.0 406.2,178.1 406.5,179.6 406.8,180.3 407.1,182.9 407.4,182.7 407.7,184.0 408.3,184.7 408.2,186.7 408.6,187.9 409.4,189.6 410.1,190.4 410.0,190.8 410.4,192.7 410.5,194.0 411.3,195.6 411.6,196.5 411.8,197.5 411.9,199.1 412.9,200.3 413.0,201.0 413.5,202.4 413.6,204.1 413.5,205.9 413.9,206.7 414.3,207.9 414.3,209.4 414.6,210.5 414.7,210.9 415.0,212.7 415.3,214.9 415.2,215.6 415.2,216.3 415.8,216.9 415.7,219.5 416.3,220.7 416.3,223.2 416.6,222.8 417.1,224.9 416.8,226.5 417.0,227.5 417.2,227.9 417.4,229.9 417.2,230.6 417.7,232.1 417.7,234.0 417.9,234.1 418.2,236.7 418.5,238.4 418.6,239.2 419.2,239.9 419.4,242.3 419.5,243.6 419.8,243.4 420.1,245.3 420.2,246.5 420.7,248.0 420.5,249.2 421.1,249.8 421.1,251.3 421.4,252.9 422.0,255.1 422.3,255.9 422.6,257.3 422.5,258.2 423.0,259.0 423.1,260.1 423.4,261.0 423.8,262.9 424.0,264.4 424.5,265.1 424.6,265.8 424.4,266.9 425.6,268.2 425.7,271.3 425.8,272.6 426.7,273.5 427.2,274.6 426.9,275.8 427.3,276.0 427.6,279.2 428.1,279.2 428.5,280.5 429.0,281.4 429.2,282.1 429.8,284.3 430.8,285.9 431.2,286.8 431.2,287.1 431.7,287.8 432.0,291.1 432.6,292.1 432.9,291.9 433.4,293.7 434.2,296.2 434.2,296.1 434.8,297.3 435.1,298.8 435.9,300.2 436.0,301.1 436.4,302.9 437.0,303.5 437.6,304.5 437.9,305.1 438.9,307.4 439.1,309.6 439.4,310.0 439.9,311.6 440.4,312.3 440.7,313.5 441.5,313.5 441.6,315.6 442.0,316.0 442.7,317.8 442.9,319.2 443.0,320.5 443.4,321.4 444.2,323.2 444.8,324.3 445.7,325.8 445.5,326.5 446.1,327.9 446.7,328.7 447.7,330.4 447.8,331.4 448.3,333.5 449.0,334.5 448.7,335.3 450.1,337.4 450.4,336.6 451.0,338.4 451.0,339.6 452.2,341.7 452.7,341.7 453.7,342.8 453.8,343.8 454.7,345.9 455.2,346.9 455.7,348.0 455.9,349.6 457.3,349.9 457.8,351.4 458.8,352.6 459.2,353.1 459.7,354.1 460.8,355.4 461.5,357.0 462.4,357.8 463.2,358.7 463.9,359.9 464.4,361.3 465.3,362.1 466.5,363.1 467.4,362.9 468.6,364.5 469.3,365.4 470.5,366.6 471.4,366.0 472.5,367.4 474.2,367.9 475.1,368.5 476.4,368.0 477.7,367.3 479.2,368.5 480.2,367.7 481.6,369.1 482.7,367.8 484.3,367.5 485.0,368.1 486.6,368.2 488.0,368.5 489.3,368.0 490.6,368.7 492.2,368.8 493.4,366.5 494.4,368.1 495.9,367.4 497.5,368.4 498.3,368.3 499.7,367.8 501.2,368.0 502.1,367.9 503.7,367.6 505.3,367.6 506.7,368.7 507.4,368.3 509.1,368.1 509.9,368.3 511.9,367.4 512.9,368.2 514.1,367.9 515.3,368.7 516.8,367.6 518.3,367.4 519.4,368.2 520.8,368.3 522.1,368.1 523.4,368.3 525.0,367.7 526.0,368.3" fill="none" stroke="#474b8e" stroke-width="1.4" stroke-linejoin="round"/><path d="M105.1,367.0 106.5,366.5 107.4,367.8 108.7,368.2 110.2,367.5 111.6,367.6 112.8,367.2 114.2,368.0 115.8,368.1 116.9,367.4 117.7,367.8 119.6,367.3 120.9,368.2 122.0,368.1 123.4,366.6 124.5,367.3 126.0,367.1 127.1,367.0 128.5,367.6 130.0,368.0 131.1,367.7 132.4,367.6 134.0,366.2 135.0,367.7 136.6,366.9 137.7,368.0 138.8,366.5 140.1,366.8 141.7,367.0 143.2,367.6 143.9,367.2 145.2,367.7 147.0,367.3 148.2,366.9 149.4,368.7 150.3,368.1 152.2,366.4 152.9,366.9 154.7,367.1 155.8,367.8 157.1,367.5 158.3,368.0 159.5,368.3 160.9,366.9 162.4,367.6 163.2,367.5 164.6,367.0 166.4,366.9 167.6,367.1 169.2,367.1 169.8,366.3 171.1,366.5 172.5,366.5 173.6,365.4 174.7,364.5 175.7,364.2 176.8,362.6 177.2,361.5 178.5,359.6 179.2,360.3 180.0,358.4 181.3,358.7 181.6,357.6 182.6,355.2 183.6,354.2 183.7,353.0 184.4,351.8 185.0,351.9 185.7,350.1 186.7,348.6 187.2,347.8 187.6,346.8 188.2,345.6 188.6,344.2 189.5,343.3 189.6,341.8 190.3,340.9 190.9,339.8 191.1,338.5 191.3,335.7 191.9,335.1 192.0,334.1 192.7,332.8 192.9,331.9 192.8,330.1 193.5,329.9 193.9,329.4 194.2,327.3 194.4,326.0 194.7,324.2 195.6,322.4 195.5,322.4 195.8,320.3 196.0,319.3 196.1,318.3 196.5,316.7 197.0,315.2 197.2,314.2 197.4,313.2 197.6,311.4 197.7,310.2 198.2,309.8 198.7,307.9 198.8,306.0 198.6,305.1 199.2,303.5 199.3,303.4 199.8,300.9 200.8,300.6 200.6,299.7 200.7,298.9 200.8,296.0 201.4,295.0 201.9,293.3 201.6,293.0 202.0,292.1 202.1,291.5 202.1,289.1 202.4,287.5 202.3,286.2 202.3,284.5 202.4,283.0 202.8,281.7 203.3,282.2 203.3,279.8 203.1,279.3 203.5,277.7 203.5,276.7 203.8,274.9 203.8,273.2 204.6,272.0 204.6,271.4 205.0,270.4 204.8,268.8 205.7,266.3 205.5,266.4 205.8,264.3 206.4,263.2 206.6,261.6 206.8,261.4 207.0,258.3 207.3,258.3 207.1,257.7 207.2,256.7 207.6,255.2 207.9,252.4 208.2,252.0 208.5,251.1 208.4,249.5 209.0,247.8 208.9,246.2 209.6,245.9 209.5,243.4 210.2,242.0 210.2,241.2 210.0,240.4 210.6,239.8 211.3,237.7 211.2,237.0 211.1,234.7 211.7,233.7 211.5,232.4 211.6,231.0 212.0,230.7 211.9,228.0 212.2,226.6 212.2,226.8 213.0,225.1 212.5,224.0 212.4,221.9 213.4,221.4 213.0,218.8 213.6,218.4 213.5,217.4 213.7,214.8 214.2,214.2 214.0,212.6 214.5,211.6 214.8,210.6 215.2,209.2 215.0,207.1 215.1,207.3 216.3,204.9 215.6,204.5 216.2,202.7 216.4,200.9 216.5,201.0 217.2,199.1 217.0,198.2 217.6,197.0 217.5,195.6 218.1,193.8 217.9,193.2 218.6,192.1 218.8,190.0 218.9,188.5 219.1,187.5 219.5,187.1 219.6,185.2 220.0,184.8 220.5,182.5 220.9,181.5 220.9,181.0 221.5,179.9 221.8,178.1 221.8,175.8 222.2,175.1 222.4,173.8 222.3,172.0 222.7,171.9 222.6,170.2 223.1,168.2 222.9,166.7 223.3,166.2 223.1,163.9 223.2,164.0 223.3,161.9 223.6,160.2 223.6,159.9 223.6,157.8 223.9,156.9 224.0,155.8 224.2,153.9 224.2,153.4 224.8,152.6 224.5,151.1 225.1,149.2 225.2,148.4 225.7,146.1 225.6,145.3 225.6,144.8 226.1,142.3 226.1,141.7 226.0,140.8 226.6,139.1 226.9,138.7 227.1,136.3 227.7,134.9 227.5,133.1 228.1,132.8 228.3,131.5 228.4,129.7 228.7,129.1 229.2,128.5 229.4,126.1 229.8,125.9 230.3,124.4 231.4,122.7 231.8,120.4 232.1,119.5 232.9,119.3 233.4,118.7 234.4,116.9 235.1,115.4 236.1,116.4 237.0,114.7 238.1,114.1 239.4,112.9 240.1,112.3 242.0,112.0 243.1,111.6 243.9,111.9 245.7,111.2 246.8,111.6 248.0,111.5 249.4,109.9 250.7,110.8 251.9,111.3 253.3,111.4 254.9,111.1 255.6,110.7 257.5,110.9 258.4,111.0 260.0,111.1 261.3,110.5 262.4,110.7 263.8,109.6 265.0,109.9 266.7,111.4 268.0,110.9 268.8,110.9 270.2,110.6 271.3,109.9 272.9,111.0 274.1,111.2 276.0,109.2 276.7,109.3 278.0,109.4 279.3,110.1 280.8,109.6 281.9,109.4 283.2,109.5 284.5,109.3 285.5,109.4 287.5,108.9 288.1,109.4 289.6,106.9 290.9,108.7 292.3,108.9 293.7,108.2 294.4,107.3 296.2,108.1 297.2,107.3 298.8,106.4 299.6,107.2 301.3,106.9 302.1,107.0 303.6,107.1 305.1,106.7 306.6,106.1 307.9,106.9 309.1,106.8 310.2,106.5 311.7,105.3 312.9,105.4 314.1,105.6 315.7,105.2 316.8,104.5 318.1,105.8 319.5,105.5 320.6,104.7 321.9,104.7 323.0,106.1 324.3,106.8 325.5,106.3 326.8,106.4 328.1,106.6 329.6,106.7 331.0,108.0 332.0,108.0 333.4,107.9 335.1,107.1 335.7,107.7 337.0,108.9 339.2,109.6 340.0,110.5 340.7,110.4 342.5,110.6 343.4,111.1 344.3,110.7 346.0,111.7 347.0,111.4 348.4,111.8 349.9,112.1 351.1,111.5 352.1,112.6 353.2,112.8 354.7,112.4 356.3,112.6 357.3,112.7 358.8,114.7 359.6,113.2 361.3,113.8 362.6,112.0 364.2,112.7 365.2,112.5 366.3,113.0 368.0,113.7 369.0,113.5 370.4,113.4 371.8,113.7 372.9,113.4 374.4,113.7 375.4,114.8 376.8,114.6 378.2,115.1 378.9,115.9 380.6,114.5 381.9,116.8 383.3,115.2 384.3,117.1 385.3,116.7 386.7,118.4 387.9,118.5 389.0,117.9 390.5,119.4 391.0,120.1 392.5,120.2 393.5,121.5 394.2,121.9 395.1,123.0 395.8,124.2 396.5,125.3 397.5,125.8 398.4,128.5 399.1,127.9 399.6,129.9 399.8,130.7 400.4,132.9 401.0,133.2 401.2,134.4 401.9,136.8 402.0,137.0 402.5,137.9 403.1,139.8 403.0,140.2 403.9,142.2 404.1,143.0 404.2,144.8 404.5,145.2 404.9,147.6 404.9,148.9 405.5,149.2 405.5,150.9 405.9,152.6 405.6,152.8 406.3,154.8 406.4,156.3 406.9,156.7 407.0,158.2 407.1,160.7 406.8,161.4 407.3,162.3 407.5,163.2 407.5,165.4 408.1,166.0 407.8,168.9 408.6,169.1 408.3,169.9 408.8,171.0 409.2,172.8 409.2,173.5 409.1,174.9 409.5,176.5 409.5,178.1 409.8,180.0 409.9,179.9 410.2,182.6 410.2,183.1 410.5,184.6 410.8,185.2 410.9,187.4 411.4,188.7 411.6,189.3 411.6,191.3 411.7,192.0 411.7,193.1 412.2,193.9 412.7,195.5 412.8,197.0 412.9,199.2 413.2,199.8 413.3,200.7 413.7,202.1 413.9,203.6 414.6,204.8 414.4,205.9 415.2,208.3 415.0,209.0 415.0,209.9 415.4,211.3 415.4,212.1 415.9,214.0 415.5,215.1 416.5,216.0 416.5,216.9 416.8,218.3 416.5,220.0 417.5,221.2 416.9,223.0 417.4,225.0 417.3,224.5 417.6,226.9 417.9,228.5 417.7,228.8 418.1,231.0 418.4,231.6 418.2,233.6 418.8,235.9 418.7,236.6 418.6,236.7 418.9,238.0 419.0,239.3 419.3,240.6 419.6,242.1 419.6,244.2 419.9,244.8 419.9,246.1 420.2,246.9 420.5,249.5 420.7,249.6 420.2,250.9 420.8,252.9 420.9,253.6 421.4,254.7 421.5,256.8 421.2,257.8 421.5,258.4 421.4,259.4 422.1,261.3 422.3,262.2 422.4,263.9 422.3,264.4 422.9,266.7 422.9,267.8 423.5,270.2 423.4,270.8 424.3,271.8 424.4,271.6 424.7,274.3 424.2,276.0 425.2,277.4 425.6,278.0 425.5,279.1 426.0,280.8 426.3,281.8 427.0,283.2 427.7,285.4 427.3,285.2 427.6,286.1 428.4,287.5 428.4,289.1 429.1,290.3 429.1,292.3 429.6,293.3 429.9,293.8 430.0,295.3 430.4,297.3 430.2,298.9 430.5,300.1 431.0,300.3 431.0,301.8 431.5,302.9 431.9,303.8 432.1,305.8 432.0,307.2 432.4,307.0 432.8,309.5 433.5,310.6 433.9,312.9 434.1,314.1 434.3,314.4 434.6,316.5 434.8,317.1 434.7,318.8 435.3,319.0 435.5,321.4 435.7,322.7 436.2,322.8 436.2,325.1 436.8,326.9 436.4,327.4 437.3,329.3 437.8,329.4 437.7,330.6 438.4,331.7 438.8,334.2 439.1,333.7 439.2,336.5 439.5,337.2 440.2,339.1 440.7,340.0 441.0,341.0 441.5,342.7 441.9,344.0 442.1,345.3 442.9,346.5 443.4,347.6 444.2,348.0 444.3,349.4 444.9,349.9 445.3,351.8 445.7,353.0 446.0,355.1 447.0,356.5 447.3,356.0 448.1,356.9 448.8,358.6 449.4,360.1 450.3,362.0 451.4,361.2 452.4,362.0 453.3,362.8 454.2,364.9 455.4,364.4 456.6,365.1 458.3,365.0 459.0,366.2 460.2,365.7 462.1,366.0 463.1,365.6 464.3,365.7 465.8,366.7 467.3,365.7 468.2,366.4 469.3,365.8 470.9,365.4 472.1,366.2 473.2,365.5 474.7,366.1 475.9,366.6 477.4,365.9 478.7,365.6 479.9,366.6 481.4,365.9 482.9,365.6 484.1,366.0 485.1,366.4 486.3,366.3 487.7,366.2 489.5,366.3 490.3,365.9 491.7,365.3 492.8,366.0 494.5,365.0 495.7,366.2 497.0,365.4 498.5,365.3 499.7,366.8 500.4,366.1 502.2,366.1 503.3,365.8 504.5,366.0 506.2,365.6 507.2,365.7 508.7,366.0 509.9,366.0 511.0,364.5 512.7,366.7 513.6,365.6 515.2,366.5 516.6,366.6 517.8,366.2 519.2,365.7 520.6,366.3 521.9,365.7 523.2,365.4 524.4,364.5 525.4,366.3" fill="none" stroke="#939393" stroke-width="1.4" stroke-linejoin="round"/>
</g>
<rect x="103.0" y="58.5" width="425.0" height="341.5" fill="none" stroke="#262626" stroke-width="1.7"/>
<line x1="259.5" y1="196.4" x2="307.3" y2="196.4" stroke="#c8161c" stroke-width="1.3"/><text x="311.6" y="203.4" class="lz">z</text><text transform="translate(325.0,201.3) scale(1.1,0.8)" class="le">=</text><text x="347.8" y="203.4" class="lg">38</text><line x1="259.5" y1="222.3" x2="307.3" y2="222.3" stroke="#5580b2" stroke-width="1.3"/><text x="311.6" y="229.3" class="lz">z</text><text transform="translate(325.0,227.2) scale(1.1,0.8)" class="le">=</text><text x="347.8" y="229.3" class="lg">66</text><line x1="259.5" y1="248.2" x2="307.3" y2="248.2" stroke="#e3bd14" stroke-width="1.3"/><text x="311.6" y="255.2" class="lz">z</text><text transform="translate(325.0,253.1) scale(1.1,0.8)" class="le">=</text><text x="347.8" y="255.2" class="lg">93</text><line x1="259.5" y1="274.1" x2="307.3" y2="274.1" stroke="#3db574" stroke-width="1.3"/><text x="311.6" y="281.1" class="lz">z</text><text transform="translate(325.0,279.0) scale(1.1,0.8)" class="le">=</text><text x="341.8" y="281.1" class="lg">120</text><line x1="259.5" y1="300.0" x2="307.3" y2="300.0" stroke="#474b8e" stroke-width="1.3"/><text x="311.6" y="307.0" class="lz">z</text><text transform="translate(325.0,304.9) scale(1.1,0.8)" class="le">=</text><text x="341.8" y="307.0" class="lg">148</text><line x1="259.5" y1="325.9" x2="307.3" y2="325.9" stroke="#939393" stroke-width="1.3"/><text x="311.6" y="332.9" class="lz">z</text><text transform="translate(325.0,330.8) scale(1.1,0.8)" class="le">=</text><text x="341.8" y="332.9" class="lg">174</text>
<text x="145.50" y="425.5" class="tk" text-anchor="middle">-400</text><text x="230.50" y="425.5" class="tk" text-anchor="middle">-200</text><text x="315.50" y="425.5" class="tk" text-anchor="middle">0</text><text x="400.50" y="425.5" class="tk" text-anchor="middle">200</text><text x="485.50" y="425.5" class="tk" text-anchor="middle">400</text>
<text x="96.3" y="373.60" class="tk" text-anchor="end">0</text><text x="96.3" y="305.30" class="tk" text-anchor="end">100</text><text x="96.3" y="236.30" class="tk" text-anchor="end">200</text><text x="96.3" y="167.60" class="tk" text-anchor="end">300</text><text x="96.3" y="99.20" class="tk" text-anchor="end">400</text>
<text x="103.8" y="51.3" class="tt">Transverse position: <tspan font-style="italic">x</tspan> = 0</text>
<text x="168.8" y="463" class="ax">Feeding position Y (mm)</text>
<text transform="translate(37.1,424.6) rotate(-90)" class="ax">Magnetic flux density B<tspan font-size="17.5px" dy="8.3">z</tspan><tspan dy="-8.3"> (Gauss)</tspan></text>
</g>
</svg>
</body></html>
